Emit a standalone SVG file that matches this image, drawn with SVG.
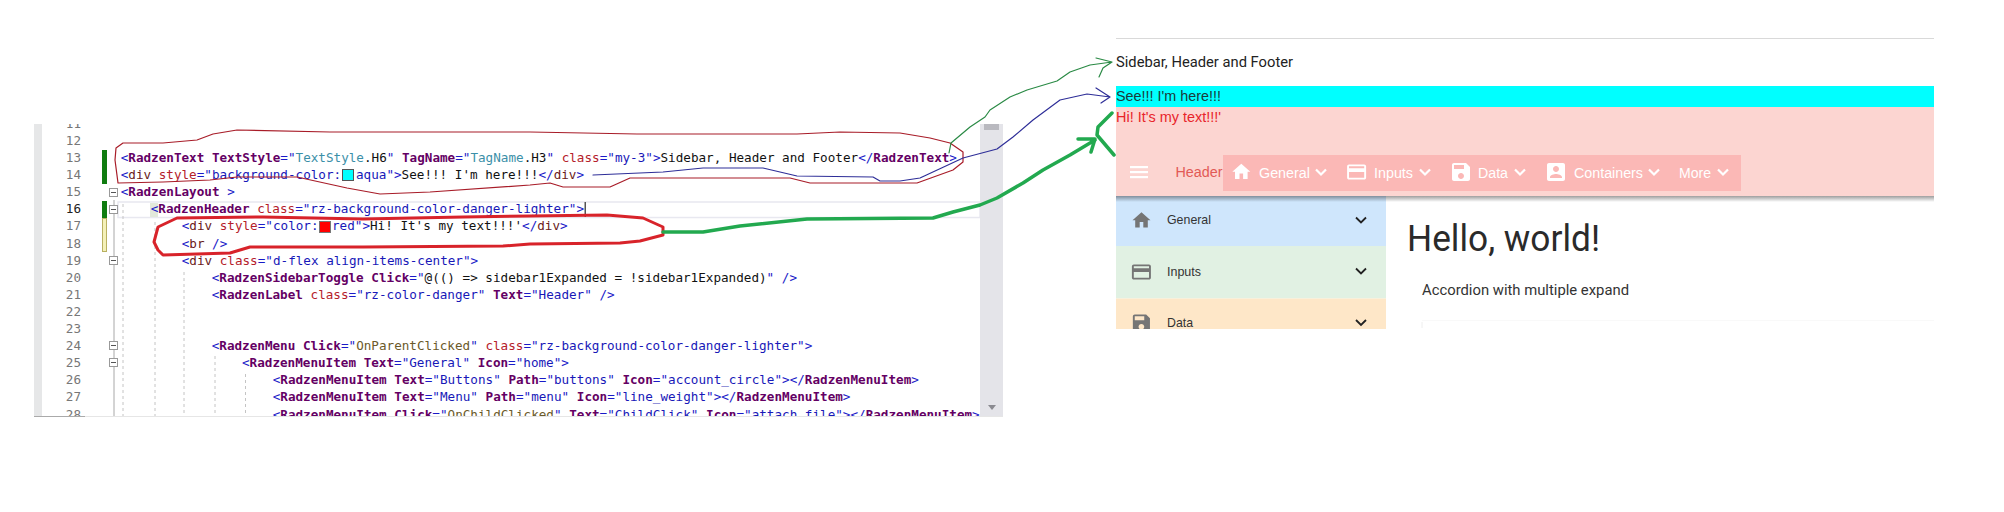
<svg xmlns="http://www.w3.org/2000/svg" width="2004" height="512" viewBox="0 0 2004 512">
<style>
.code{font-family:"DejaVu Sans Mono","Liberation Mono",monospace;font-size:12.63px;white-space:pre}
.p{fill:#1a1ac8}.e{fill:#640064;font-weight:bold}.a{fill:#b5202a}.v{fill:#1818b8}.t{fill:#111}.c{fill:#3b8fa8}.d{fill:#6a1a1a}.m{fill:#6b5a2a}
.ln{font-family:"DejaVu Sans Mono",monospace;font-size:12.63px;fill:#777;text-anchor:end}
.ui{font-family:Roboto,"Liberation Sans",sans-serif}
.sans{font-family:"Liberation Sans",Arial,sans-serif}
.menu{font-size:15.5px;fill:#fff}
.side{font-size:13.5px;fill:#333}
.fold{fill:#fff;stroke:#999;stroke-width:1}
.minus{stroke:#555;stroke-width:1}
.guide{stroke:#c4c4c4;stroke-width:1;stroke-dasharray:3 3;fill:none}
.chevw{fill:none;stroke:#fff;stroke-width:2.2}
.chevd{fill:none;stroke:#222;stroke-width:1.8}
.ink{fill:none;stroke-linejoin:round;stroke-linecap:round}
</style>
<defs>
<clipPath id="edclip"><rect x="34" y="124" width="946" height="292"/></clipPath>
<clipPath id="sideclip"><rect x="1116" y="196" width="270" height="133"/></clipPath>
<linearGradient id="shadow" x1="0" y1="0" x2="0" y2="1"><stop offset="0" stop-color="#000" stop-opacity=".38"/><stop offset="1" stop-color="#000" stop-opacity="0"/></linearGradient>
<path id="home" d="M10 20v-6h4v6h5v-8h3L12 3 2 12h3v8z"/>
<path id="card" d="M20 4H4c-1.1 0-2 .9-2 2v12c0 1.1.9 2 2 2h16c1.1 0 2-.9 2-2V6c0-1.1-.9-2-2-2zm0 14H4v-6h16v6zm0-10H4V6h16v2z"/>
<path id="save" d="M17 3H5c-1.11 0-2 .9-2 2v14c0 1.1.89 2 2 2h14c1.1 0 2-.9 2-2V7l-4-4zm-5 16c-1.66 0-3-1.34-3-3s1.34-3 3-3 3 1.34 3 3-1.34 3-3 3zm3-10H5V5h10v4z"/>
<path id="acct" d="M3 5v14c0 1.1.89 2 2 2h14c1.1 0 2-.9 2-2V5c0-1.1-.9-2-2-2H5c-1.11 0-2 .9-2 2zm12 4c0 1.66-1.34 3-3 3s-3-1.34-3-3 1.34-3 3-3 3 1.34 3 3zm-9 8c0-2 4-3.1 6-3.1s6 1.1 6 3.1v1H6v-1z"/>
</defs>
<rect width="2004" height="512" fill="#fff"/>

<g id="editor">
<rect x="34" y="124" width="8" height="292" fill="#e6e7e8"/>
<rect x="118" y="202" width="862" height="15.500" fill="#fff" stroke="#e8e8f0" stroke-width="1.500"/>
<rect x="150" y="203" width="8" height="14" fill="#e2e8da"/>
<rect x="102" y="150" width="5" height="34" fill="#107c10"/>
<rect x="102" y="201" width="5" height="17" fill="#107c10"/>
<rect x="102.500" y="218.500" width="4" height="33" fill="#f4f0b8" stroke="#b8b060"/>
<line x1="114" y1="200" x2="114" y2="416" stroke="#a8a8a8"/>
<g class="guides">
<line class="guide" x1="123" y1="204" x2="123" y2="416"/>
<line class="guide" x1="155" y1="222" x2="155" y2="416"/>
<line class="guide" x1="184" y1="272" x2="184" y2="416"/>
<line class="guide" x1="215" y1="356" x2="215" y2="416"/>
<line class="guide" x1="245.500" y1="374" x2="245.500" y2="416"/>
</g>
<g clip-path="url(#edclip)">
<text class="ln" x="81" y="127.800">11</text>
<text class="ln" x="81" y="144.900">12</text>
<text class="ln" x="81" y="162">13</text>
<text class="ln" x="81" y="179.100">14</text>
<text class="ln" x="81" y="196.200">15</text>
<text class="ln" x="81" y="213.300" style="fill:#222">16</text>
<text class="ln" x="81" y="230.400">17</text>
<text class="ln" x="81" y="247.500">18</text>
<text class="ln" x="81" y="264.600">19</text>
<text class="ln" x="81" y="281.700">20</text>
<text class="ln" x="81" y="298.800">21</text>
<text class="ln" x="81" y="315.900">22</text>
<text class="ln" x="81" y="333">23</text>
<text class="ln" x="81" y="350.100">24</text>
<text class="ln" x="81" y="367.200">25</text>
<text class="ln" x="81" y="384.300">26</text>
<text class="ln" x="81" y="401.400">27</text>
<text class="ln" x="81" y="418.500">28</text>

<text class="code" x="120.700" y="162"><tspan class="p">&lt;</tspan><tspan class="e">RadzenText</tspan> <tspan class="e">TextStyle</tspan><tspan class="p">="</tspan><tspan class="c">TextStyle</tspan><tspan class="t">.H6</tspan><tspan class="p">"</tspan> <tspan class="e">TagName</tspan><tspan class="p">="</tspan><tspan class="c">TagName</tspan><tspan class="t">.H3</tspan><tspan class="p">"</tspan> <tspan class="a">class</tspan><tspan class="p">="</tspan><tspan class="v">my-3</tspan><tspan class="p">"&gt;</tspan><tspan class="t">Sidebar, Header and Footer</tspan><tspan class="p">&lt;/</tspan><tspan class="e">RadzenText</tspan><tspan class="p">&gt;</tspan></text>
<text class="code" x="120.700" y="179.100"><tspan class="p">&lt;</tspan><tspan class="d">div</tspan> <tspan class="a">style</tspan><tspan class="p">="</tspan><tspan class="v">background-color:</tspan></text>
<rect x="342.500" y="169.500" width="11" height="11" fill="#00ffff" stroke="#555"/>
<text class="code" x="356" y="179.100"><tspan class="v">aqua</tspan><tspan class="p">"&gt;</tspan><tspan class="t">See!!! I'm here!!!</tspan><tspan class="p">&lt;/</tspan><tspan class="d">div</tspan><tspan class="p">&gt;</tspan></text>
<text class="code" x="120.700" y="196.200"><tspan class="p">&lt;</tspan><tspan class="e">RadzenLayout</tspan> <tspan class="p">&gt;</tspan></text>
<text class="code" x="150.700" y="213.300"><tspan class="p">&lt;</tspan><tspan class="e">RadzenHeader</tspan> <tspan class="a">class</tspan><tspan class="p">="</tspan><tspan class="v">rz-background-color-danger-lighter</tspan><tspan class="p">"&gt;</tspan></text>
<rect x="584.500" y="202" width="1.500" height="15" fill="#555"/>
<text class="code" x="181.700" y="230.400"><tspan class="p">&lt;</tspan><tspan class="d">div</tspan> <tspan class="a">style</tspan><tspan class="p">="</tspan><tspan class="v">color:</tspan></text>
<rect x="319.500" y="221.500" width="11" height="11" fill="#ff0000" stroke="#777"/>
<text class="code" x="332" y="230.400"><tspan class="v">red</tspan><tspan class="p">"&gt;</tspan><tspan class="t">Hi! It's my text!!!'</tspan><tspan class="p">&lt;/</tspan><tspan class="d">div</tspan><tspan class="p">&gt;</tspan></text>
<text class="code" x="181.700" y="247.500"><tspan class="p">&lt;</tspan><tspan class="d">br</tspan> <tspan class="p">/&gt;</tspan></text>
<text class="code" x="181.700" y="264.600"><tspan class="p">&lt;</tspan><tspan class="d">div</tspan> <tspan class="a">class</tspan><tspan class="p">="</tspan><tspan class="v">d-flex align-items-center</tspan><tspan class="p">"&gt;</tspan></text>
<text class="code" x="211.700" y="281.700"><tspan class="p">&lt;</tspan><tspan class="e">RadzenSidebarToggle</tspan> <tspan class="e">Click</tspan><tspan class="p">="</tspan><tspan class="t">@(() =&gt; sidebar1Expanded = !sidebar1Expanded)</tspan><tspan class="p">" /&gt;</tspan></text>
<text class="code" x="211.700" y="298.800"><tspan class="p">&lt;</tspan><tspan class="e">RadzenLabel</tspan> <tspan class="a">class</tspan><tspan class="p">="</tspan><tspan class="v">rz-color-danger</tspan><tspan class="p">"</tspan> <tspan class="e">Text</tspan><tspan class="p">="</tspan><tspan class="v">Header</tspan><tspan class="p">" /&gt;</tspan></text>
<text class="code" x="211.700" y="350.100"><tspan class="p">&lt;</tspan><tspan class="e">RadzenMenu</tspan> <tspan class="e">Click</tspan><tspan class="p">="</tspan><tspan class="m">OnParentClicked</tspan><tspan class="p">"</tspan> <tspan class="a">class</tspan><tspan class="p">="</tspan><tspan class="v">rz-background-color-danger-lighter</tspan><tspan class="p">"&gt;</tspan></text>
<text class="code" x="242" y="367.200"><tspan class="p">&lt;</tspan><tspan class="e">RadzenMenuItem</tspan> <tspan class="e">Text</tspan><tspan class="p">="</tspan><tspan class="v">General</tspan><tspan class="p">"</tspan> <tspan class="e">Icon</tspan><tspan class="p">="</tspan><tspan class="v">home</tspan><tspan class="p">"&gt;</tspan></text>
<text class="code" x="272.700" y="384.300"><tspan class="p">&lt;</tspan><tspan class="e">RadzenMenuItem</tspan> <tspan class="e">Text</tspan><tspan class="p">="</tspan><tspan class="v">Buttons</tspan><tspan class="p">"</tspan> <tspan class="e">Path</tspan><tspan class="p">="</tspan><tspan class="v">buttons</tspan><tspan class="p">"</tspan> <tspan class="e">Icon</tspan><tspan class="p">="</tspan><tspan class="v">account_circle</tspan><tspan class="p">"&gt;&lt;/</tspan><tspan class="e">RadzenMenuItem</tspan><tspan class="p">&gt;</tspan></text>
<text class="code" x="272.700" y="401.400"><tspan class="p">&lt;</tspan><tspan class="e">RadzenMenuItem</tspan> <tspan class="e">Text</tspan><tspan class="p">="</tspan><tspan class="v">Menu</tspan><tspan class="p">"</tspan> <tspan class="e">Path</tspan><tspan class="p">="</tspan><tspan class="v">menu</tspan><tspan class="p">"</tspan> <tspan class="e">Icon</tspan><tspan class="p">="</tspan><tspan class="v">line_weight</tspan><tspan class="p">"&gt;&lt;/</tspan><tspan class="e">RadzenMenuItem</tspan><tspan class="p">&gt;</tspan></text>
<text class="code" x="272.700" y="418.500"><tspan class="p">&lt;</tspan><tspan class="e">RadzenMenuItem</tspan> <tspan class="e">Click</tspan><tspan class="p">="</tspan><tspan class="m">OnChildClicked</tspan><tspan class="p">"</tspan> <tspan class="e">Text</tspan><tspan class="p">="</tspan><tspan class="v">ChildClick</tspan><tspan class="p">"</tspan> <tspan class="e">Icon</tspan><tspan class="p">="</tspan><tspan class="v">attach_file</tspan><tspan class="p">"&gt;&lt;/</tspan><tspan class="e">RadzenMenuItem</tspan><tspan class="p">&gt;</tspan></text>
</g>
<g class="folds">
<rect class="fold" x="109.500" y="188.500" width="8" height="8"/><line class="minus" x1="111" y1="192.500" x2="116" y2="192.500"/>
<rect class="fold" x="109.500" y="205.500" width="8" height="8"/><line class="minus" x1="111" y1="209.500" x2="116" y2="209.500"/>
<rect class="fold" x="109.500" y="256.500" width="8" height="8"/><line class="minus" x1="111" y1="260.500" x2="116" y2="260.500"/>
<rect class="fold" x="109.500" y="341.500" width="8" height="8"/><line class="minus" x1="111" y1="345.500" x2="116" y2="345.500"/>
<rect class="fold" x="109.500" y="358.500" width="8" height="8"/><line class="minus" x1="111" y1="362.500" x2="116" y2="362.500"/>
</g>
<rect x="980" y="124" width="23" height="292" fill="#e4e4e9"/>
<rect x="984" y="124" width="15" height="6" fill="#b9b9bf"/>
<polygon points="988,405 996,405 992,410" fill="#8a8a90"/>
<line x1="34" y1="416.500" x2="1003" y2="416.500" stroke="#e6e6e6"/>
<line x1="34" y1="416.500" x2="85" y2="416.500" stroke="#aaa"/>
</g>

<g id="page">
<line x1="1116" y1="38.500" x2="1934" y2="38.500" stroke="#d9d9d9"/>
<text class="ui" x="1116" y="66.500" font-size="14" fill="#222" textLength="177" lengthAdjust="spacingAndGlyphs">Sidebar, Header and Footer</text>
<rect x="1116" y="86" width="818" height="21" fill="#00ffff"/>
<text class="sans" x="1116" y="101" font-size="14.500" fill="#1c3a3a" textLength="105" lengthAdjust="spacingAndGlyphs">See!!! I'm here!!!</text>
</g>

<g id="header">
<rect x="1116" y="107" width="818" height="89" fill="#fcd5d1"/>
<text class="sans" x="1116" y="122" font-size="14.500" fill="#e8242a" textLength="105" lengthAdjust="spacingAndGlyphs">Hi! It's my text!!!'</text>
<g fill="#fff"><rect x="1130" y="166" width="18" height="2.200"/><rect x="1130" y="171" width="18" height="2.200"/><rect x="1130" y="176" width="18" height="2.200"/></g>
<text class="sans" x="1175.500" y="177" font-size="15.500" fill="#e25a55" textLength="47" lengthAdjust="spacingAndGlyphs">Header</text>
<rect x="1223" y="155" width="518" height="36" fill="#fbb8b6"/>
<g fill="#fff">
<use href="#home" transform="translate(1230.500,161) scale(.9)"/>
<use href="#card" transform="translate(1345.200,160.600) scale(.95)"/>
<use href="#save" transform="translate(1449,160)"/>
<use href="#acct" transform="translate(1544,160)"/>
</g>
<text class="sans menu" x="1259" y="177.500" textLength="51" lengthAdjust="spacingAndGlyphs">General</text>
<text class="sans menu" x="1374" y="177.500" textLength="39" lengthAdjust="spacingAndGlyphs">Inputs</text>
<text class="sans menu" x="1478" y="177.500" textLength="30" lengthAdjust="spacingAndGlyphs">Data</text>
<text class="sans menu" x="1574" y="177.500" textLength="69" lengthAdjust="spacingAndGlyphs">Containers</text>
<text class="sans menu" x="1679" y="177.500" textLength="32" lengthAdjust="spacingAndGlyphs">More</text>
<polyline class="chevw" points="1316,169.500 1321,174.500 1326,169.500"/>
<polyline class="chevw" points="1420,169.500 1425,174.500 1430,169.500"/>
<polyline class="chevw" points="1515,169.500 1520,174.500 1525,169.500"/>
<polyline class="chevw" points="1649,169.500 1654,174.500 1659,169.500"/>
<polyline class="chevw" points="1718,169.500 1723,174.500 1728,169.500"/>
</g>

<g id="sidebar">
<g clip-path="url(#sideclip)">
<rect x="1116" y="196" width="270" height="50" fill="#cfe6fc"/>
<rect x="1116" y="246" width="270" height="52.500" fill="#e1f1e3"/>
<rect x="1116" y="298.500" width="270" height="31" fill="#fee7c8"/>
<g fill="#757575">
<use href="#home" transform="translate(1130.700,209.500) scale(.9)"/>
<use href="#card" transform="translate(1130,260.600) scale(.95)"/>
<use href="#save" transform="translate(1130,311.600) scale(.95)"/>
</g>
<text class="sans side" x="1167" y="224" textLength="44" lengthAdjust="spacingAndGlyphs">General</text>
<text class="sans side" x="1167" y="276" textLength="34" lengthAdjust="spacingAndGlyphs">Inputs</text>
<text class="sans side" x="1167" y="327" textLength="26" lengthAdjust="spacingAndGlyphs">Data</text>
<polyline class="chevd" points="1356,217.500 1361,222.500 1366,217.500"/>
<polyline class="chevd" points="1356,268.500 1361,273.500 1366,268.500"/>
<polyline class="chevd" points="1356,320 1361,325 1366,320"/>
</g>
</g>
<rect x="1116" y="196" width="818" height="6" fill="url(#shadow)"/>

<g id="content">
<text class="ui" x="1407" y="251" font-size="36" font-weight="400" fill="#2a2a2a" textLength="193" lengthAdjust="spacingAndGlyphs">Hello, world!</text>
<text class="ui" x="1422" y="295" font-size="14" fill="#333" textLength="207" lengthAdjust="spacingAndGlyphs">Accordion with multiple expand</text>
<line x1="1422" y1="320.500" x2="1934" y2="320.500" stroke="#f9f9f9"/>
<line x1="1422" y1="322" x2="1422" y2="328" stroke="#eee"/>
</g>

<g id="connectors">
<path class="ink" stroke="#a81c28" stroke-width="1.200" d="M118 183 L115 160 L116 148 L123 143 L163 143 L197 140 L213 134 L237 130 L330 132 L530 132 L637 134 L797 134 L840 132 L900 133 L930 138 L950 143 L963 152 L963 162 L953 170 L917 183 L810 183 L790 178 L630 178 L610 187 L563 187 L550 183 L530 185 L430 192 L380 194 L347 188 L297 177 L237 177 L210 180 L163 182 Z"/>
<path class="ink" stroke="#d8232a" stroke-width="3" d="M154 242 L158 227 L177 218 L263 217 L363 219 L463 217 L530 216 L607 215 L643 218 L663 227 L663 235 L640 241 L620 243 L530 244 L503 246 L363 247 L250 247 L230 253 L163 255 L158 250 Z"/>
<path class="ink" stroke="#2a8a45" stroke-width="1.200" d="M949 153 L951 143 L970 127 L985 117 L990 110 L1010 97 L1027 90 L1057 81 L1070 72 L1090 65 L1112 62 M1096 58 L1112 62 L1103 68 L1099 77"/>
<path class="ink" stroke="#2e2e98" stroke-width="1.200" d="M593 175 L663 172 L703 168 L763 168 L797 176 L873 177 L880 181 L900 181 L920 178 L963 158 L997 149 L1013 137 L1033 120 L1060 100 L1087 94 L1110 97 M1096 88 L1110 97 L1101 103"/>
<path class="ink" stroke="#22a94f" stroke-width="3.500" d="M663 232 L703 232 L740 226 L807 219 L933 218 L953 212 L980 205 L997 198 L1023 183 L1043 170 L1070 155 L1095 140 M1078 139 L1095 139 L1091 152 M1112 113 L1098 127 L1097 135 L1114 155"/>
</g>
</svg>
